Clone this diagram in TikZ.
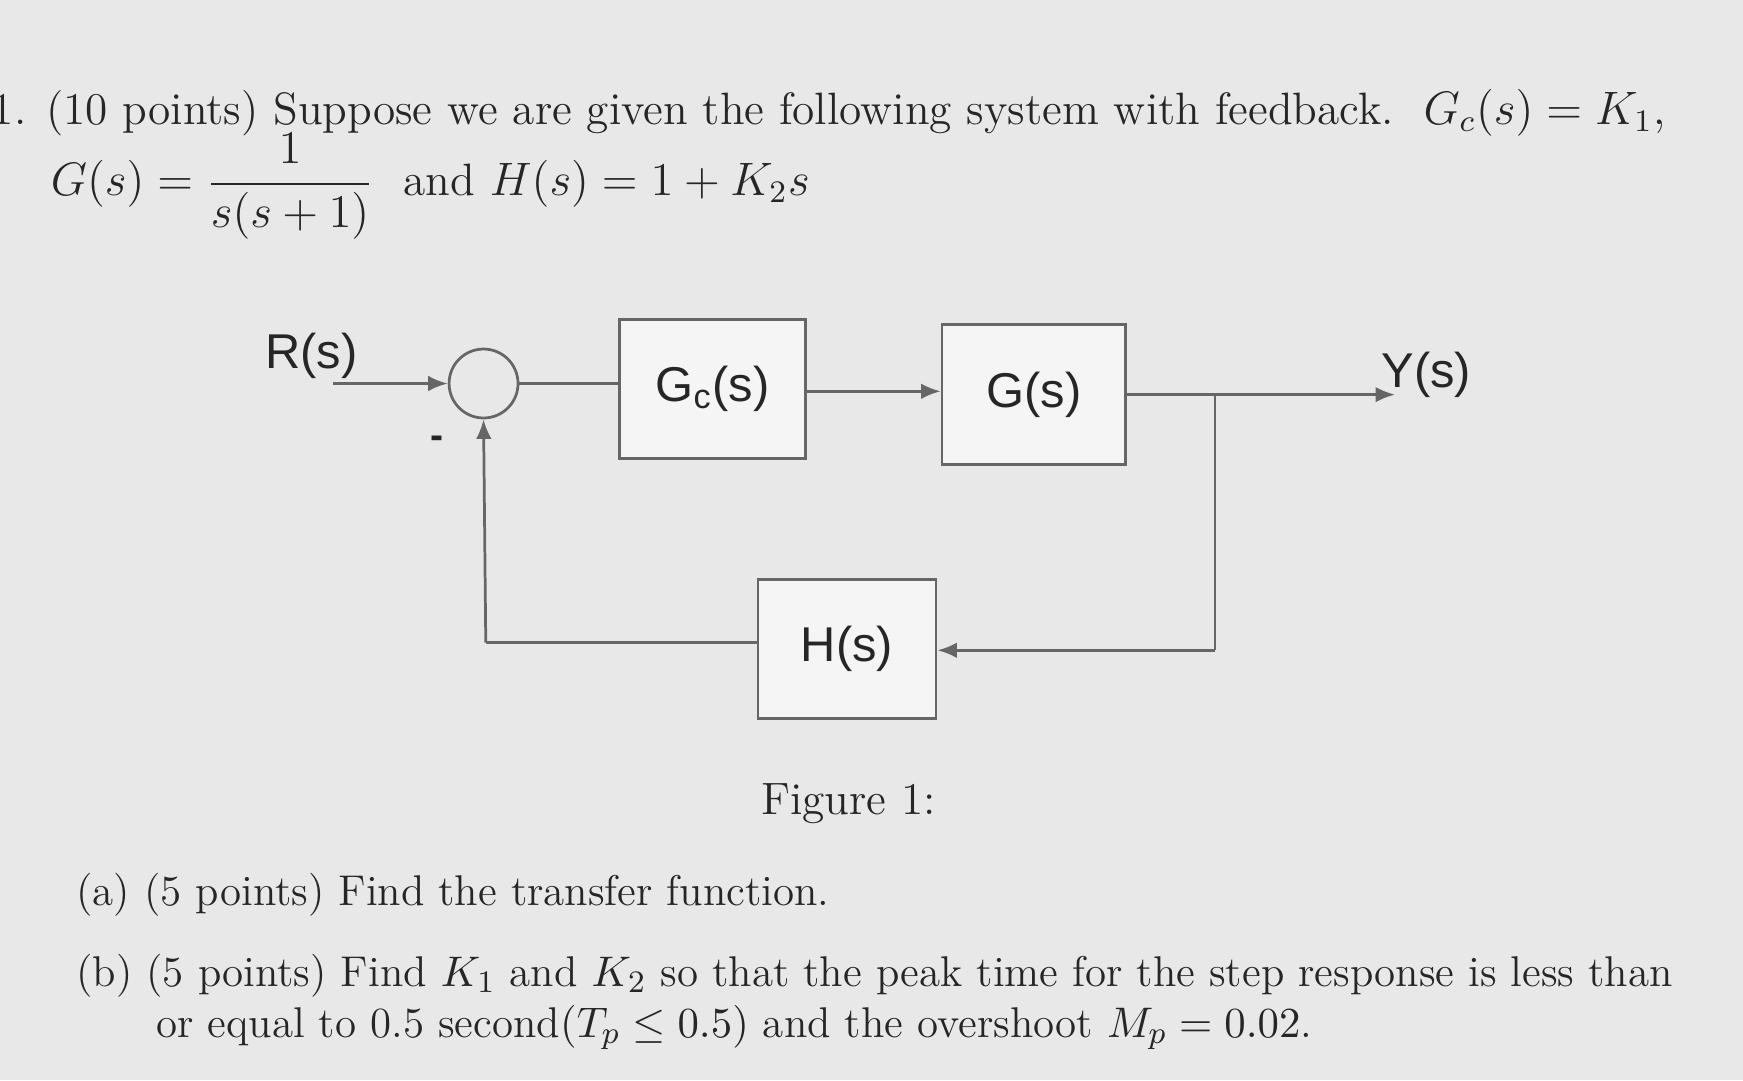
\documentclass[tikz,border=0pt]{standalone}
\usepackage{fontspec}
\usepackage{amsmath,amssymb}
\newfontfamily\blk{Liberation Sans}
\usetikzlibrary{arrows.meta}
\begin{document}
\begin{tikzpicture}[x=0.01cm,y=-0.01cm,
  txt/.style={anchor=base west,inner sep=0,font=\fontsize{11.6}{14}\selectfont,text=black!85},
  btxt/.style={txt,font=\fontsize{11}{14}\selectfont},
  blkbox/.style={draw=black!60,line width=0.7pt,fill=black!4,font=\blk\fontsize{12.5}{14}\selectfont,text=black!85},
  ln/.style={draw=black!60,line width=0.7pt},
  arr/.style={ln,-{Latex[length=5pt,width=4pt]}}]
\fill[black!9] (0,0) rectangle (1568,972);
\useasboundingbox (0,0) rectangle (1568,972);
\node[txt] (l1) at (-8,112) {1. (10 points) Suppose we are given the following system with feedback.\ \ $G_c(s)=K_1,$};
\node[txt] (l2) at (45,176) {$G(s)=\dfrac{1}{s(s+1)}$ \ and $H(s)=1+K_2s$};
\node[blkbox,minimum width=1.67cm,minimum height=1.25cm] (gc) at (641,350) {G\textsubscript{c}(s)};
\node[blkbox,minimum width=1.65cm,minimum height=1.26cm] (g) at (930,355) {G(s)};
\node[blkbox,minimum width=1.6cm,minimum height=1.25cm] (h) at (762,584) {H(s)};
\node[ln,circle,minimum size=0.62cm,inner sep=0] (sum) at (435,345) {};
\node[font=\blk\fontsize{12.5}{14}\selectfont,text=black!85] (r) at (280,320) {R(s)};
\node[font=\blk\fontsize{12.5}{14}\selectfont,text=black!85] (y) at (1283,337) {Y(s)};
\node[font=\blk\bfseries,text=black!85] (minus) at (393,398) {-};
\coordinate (rin) at (300,345);
\coordinate (yout) at (1255,355);
\coordinate (br) at (1093,355);
\coordinate (brd) at (1093,585);
\coordinate (fbl) at (437,578);
\draw[arr] (rin) -- (sum.west);
\draw[ln] (sum.east) -- (gc.west |- sum.east);
\draw[arr] (gc.east |- 0,352) -- (g.west |- 0,352);
\draw[arr] (g.east |- yout) -- (yout);
\draw[ln] (br) -- (brd);
\draw[arr] (brd) -- (h.east |- brd);
\draw[ln] (h.west |- fbl) -- (fbl);
\draw[arr] (fbl) -- (sum.south);
\node[txt] (fig) at (684,733) {Figure 1:};
\node[btxt] (a) at (68,815) {(a) (5 points) Find the transfer function.};
\node[btxt] (b) at (68,887) {(b) (5 points) Find $K_1$ and $K_2$ so that the peak time for the step response is less than};
\node[btxt] (b2) at (140,933) {or equal to 0.5 second$(T_p\le 0.5)$ and the overshoot $M_p=0.02$.};
\end{tikzpicture}
\end{document}
